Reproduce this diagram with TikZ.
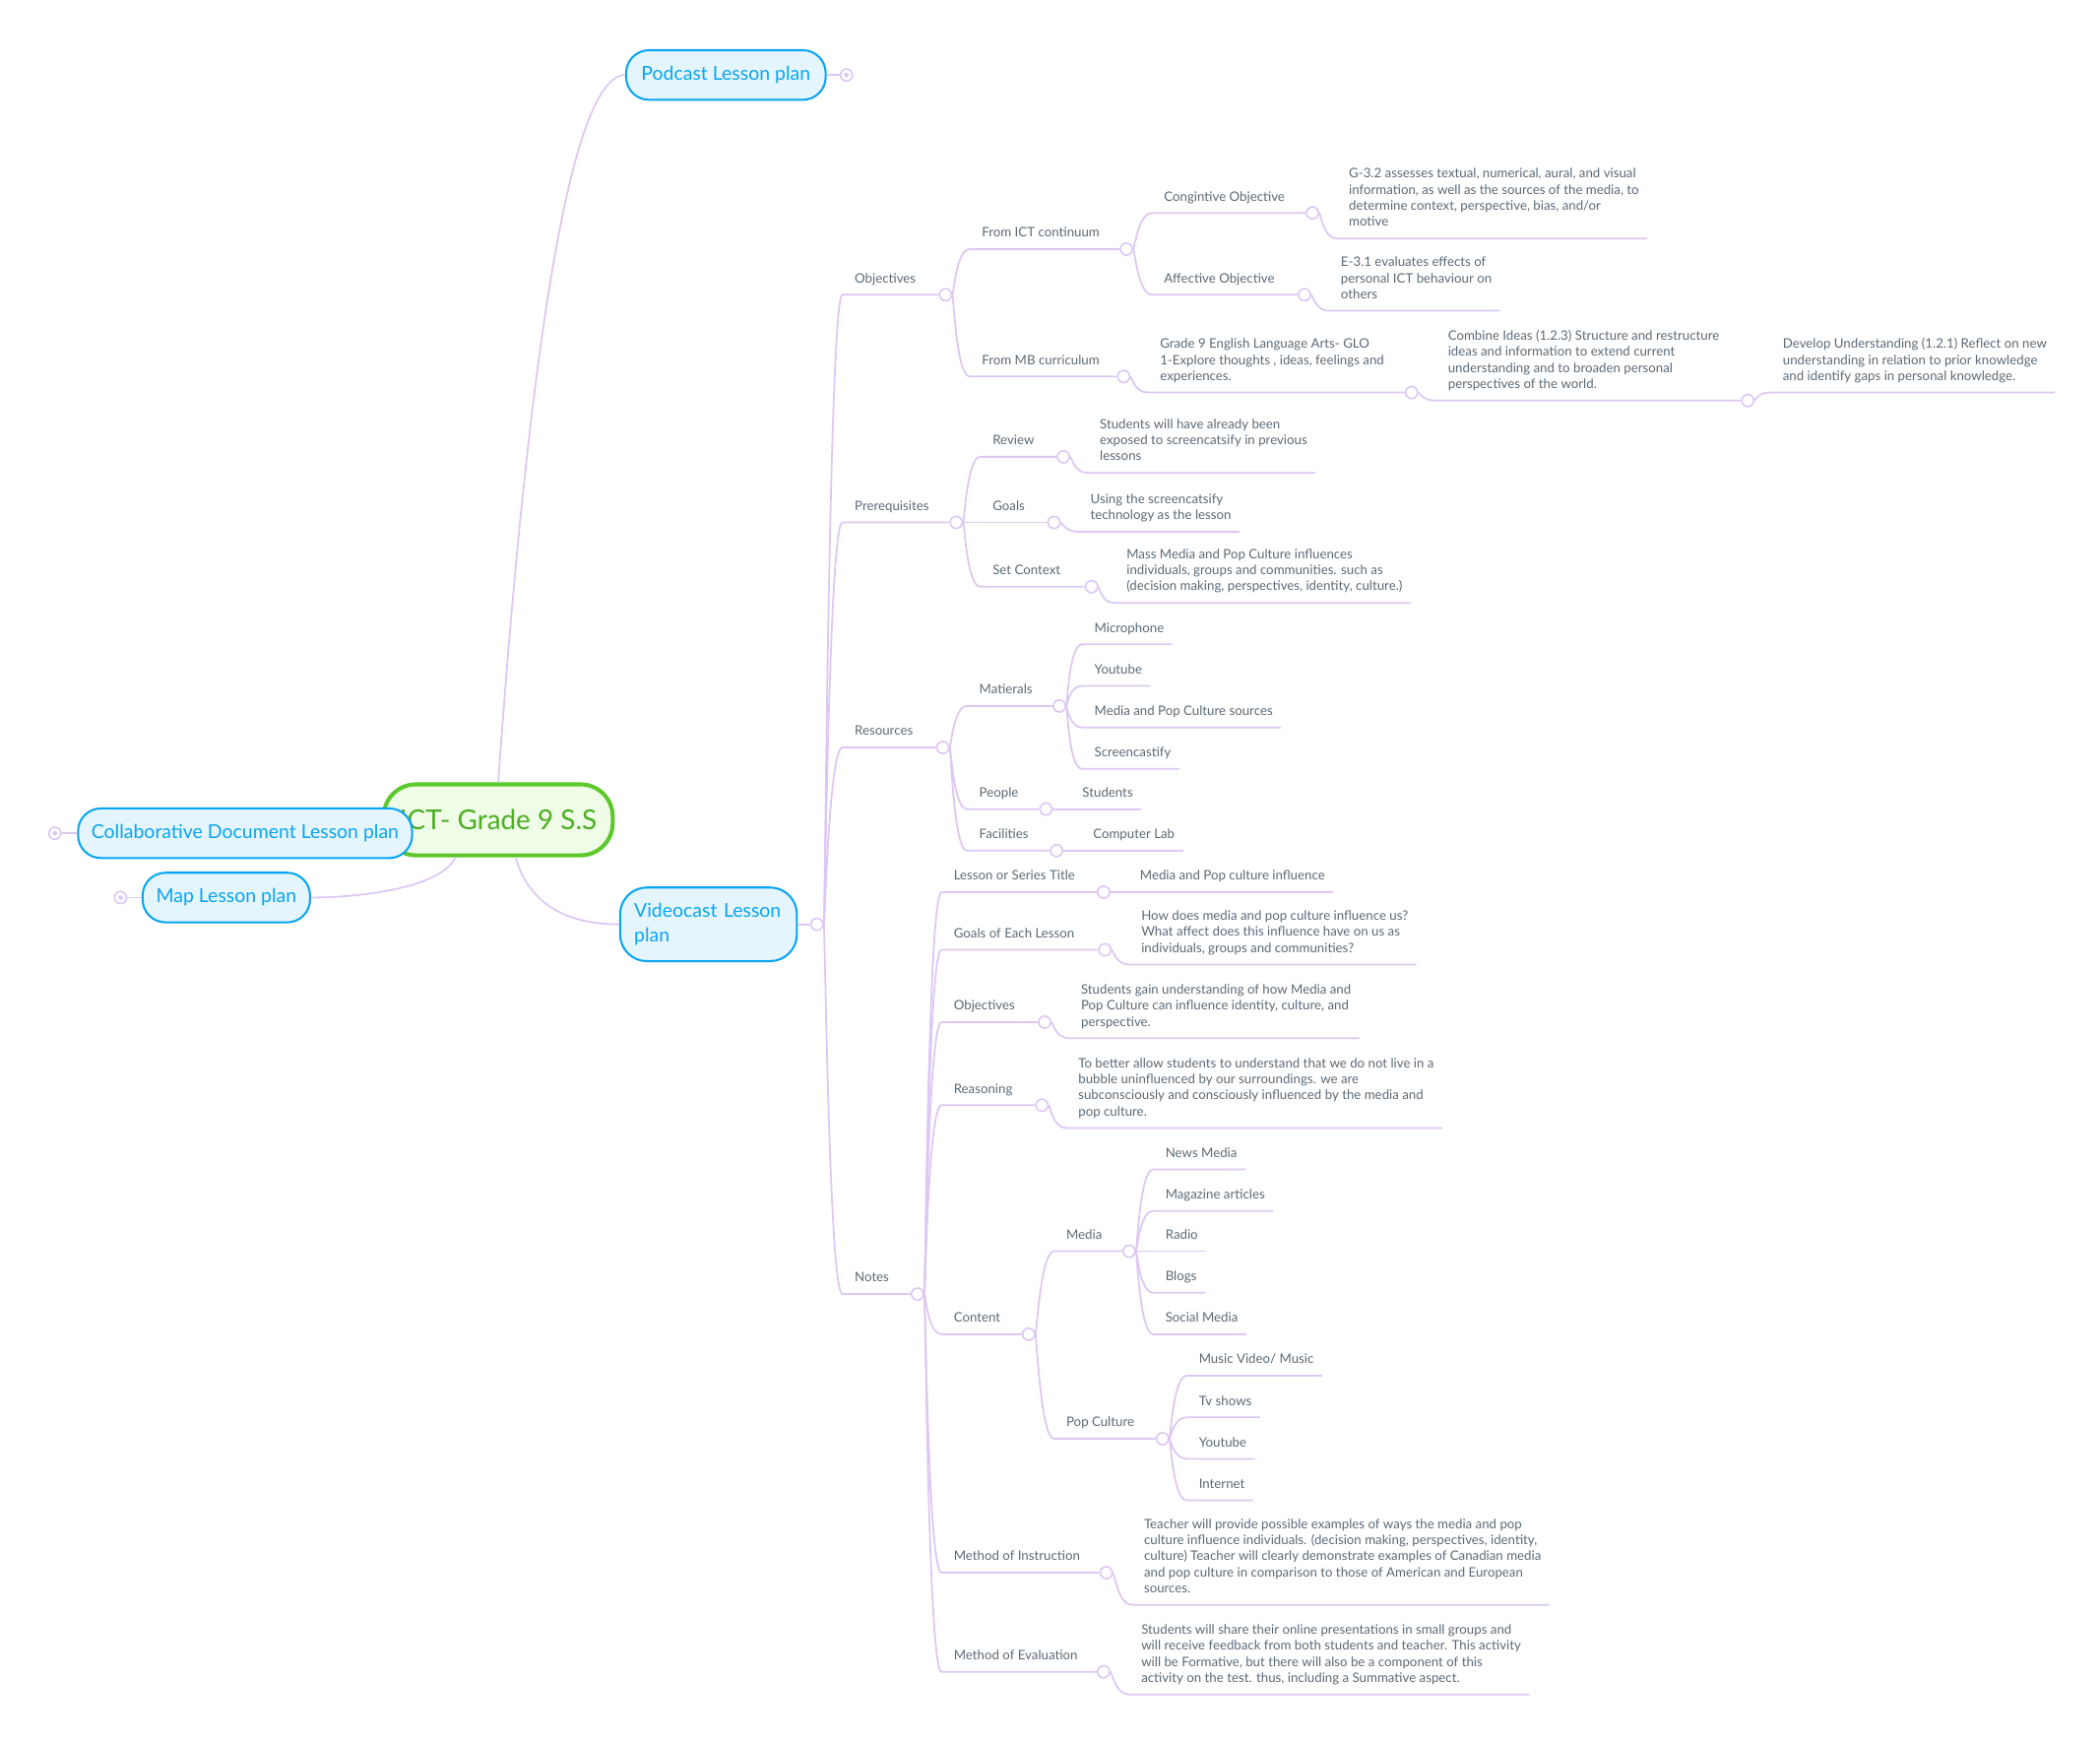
\documentclass[tikz,border=0pt]{standalone}
\usepackage{fontspec}
\setmainfont{Lato}
\definecolor{lavline}{HTML}{DCC8F2}
\definecolor{notegray}{HTML}{5A6976}
\definecolor{planblue}{HTML}{0AA5F0}
\definecolor{planfill}{HTML}{E4F5FD}
\definecolor{rootgreen}{HTML}{5CC82A}
\definecolor{rootfill}{HTML}{EFFCE8}
\definecolor{roottext}{HTML}{4DAE22}
\usetikzlibrary{positioning}

\tikzset{
  branch/.style={draw=lavline, line width=1.3pt},
  twig/.style={to path={.. controls +(6,0) and +(-10,0) .. (\tikztotarget)}},
  hub/.style={circle, draw=lavline, fill=white, line width=1.2pt, minimum size=9pt, inner sep=0pt},
  fold/.style={circle, draw=lavline, fill=white, line width=1.2pt, minimum size=9pt, inner sep=0pt,
    path picture={\fill[lavline] (path picture bounding box.center) circle (1.8pt);}},
  topic/.style={anchor=base west, inner sep=0pt, align=left, text=notegray,
    font=\fontsize{9.75}{12}\selectfont},
  plan/.style={draw=planblue, fill=planfill, line width=1.5pt, rounded corners=17pt,
    text=planblue, font=\fontsize{14.3}{18}\selectfont, minimum height=37pt, inner xsep=10pt},
  rootbox/.style={draw=rootgreen, fill=rootfill, line width=3pt, rounded corners=24pt,
    text=roottext, font=\fontsize{20.5}{24}\selectfont, minimum width=171pt, minimum height=53pt}
}

\begin{document}
\begin{tikzpicture}[x=1pt,y=-1pt]
  \useasboundingbox (0,0) rectangle (1568,1301);

  % central topic and the lesson plans
  \node[rootbox] (root) at (372,612) {ICT- Grade 9 S.S};
  \node[plan, minimum width=249pt] (collab) at (183,622) {Collaborative Document Lesson plan};
  \node[plan, minimum width=125pt] (maplp) at (169,670) {Map Lesson plan};
  \node[plan, minimum width=149pt] (podcast) at (542,56) {Podcast Lesson plan};
  \node[plan, minimum width=132pt, minimum height=55pt, text width=111pt, align=left,
    rounded corners=20pt] (videocast) at (529,690) {Videocast Lesson\\plan};
  \node[fold] (podfold) at (632,56) {};
  \node[fold] (collabfold) at (41,622) {};
  \node[fold] (mapfold) at (90,670) {};
  \draw[branch] (podcast) -- (podfold);
  \draw[branch] (collab) -- (collabfold);
  \draw[branch] (maplp) -- (mapfold);
  \draw[branch] (root.north) .. controls (390,330) and (420,56) .. (podcast.west);
  \draw[branch] ([xshift=-32pt]root.south) .. controls (330,662) and (272,670) .. (maplp.east);
  \draw[branch] ([xshift=13pt]root.south) .. controls (395,676) and (425,690) .. (videocast.west);

  % hubs
  \node[hub] (hVid) at (610,690) {};
  \node[hub] (hObj) at (706,220) {};
  \node[hub] (hIct) at (841,186) {};
  \node[hub] (hCog) at (980,159) {};
  \node[hub] (hAff) at (974,220) {};
  \node[hub] (hMb) at (839,281) {};
  \node[hub] (hGlo) at (1054,293) {};
  \node[hub] (hComb) at (1305,299) {};
  \node[hub] (hPre) at (714,390) {};
  \node[hub] (hRev) at (794,341) {};
  \node[hub] (hGoal) at (787,390) {};
  \node[hub] (hCtx) at (815,438) {};
  \node[hub] (hRes) at (704,558) {};
  \node[hub] (hMat) at (791,527) {};
  \node[hub] (hPpl) at (781,604) {};
  \node[hub] (hFac) at (789,635) {};
  \node[hub] (hNotes) at (685,966) {};
  \node[hub] (hTitle) at (824,666) {};
  \node[hub] (hGEach) at (825,709) {};
  \node[hub] (hNObj) at (780,763) {};
  \node[hub] (hReas) at (778,825) {};
  \node[hub] (hCont) at (768,996) {};
  \node[hub] (hMedia) at (843,934) {};
  \node[hub] (hPop) at (868,1074) {};
  \node[hub] (hInstr) at (826,1174) {};
  \node[hub] (hEval) at (824,1248) {};
  \draw[branch] (videocast) -- (hVid);

  % Objectives
  \node[topic] (tObj) at (638,211) {Objectives};
  \node[topic] (tIct) at (733,177) {From ICT continuum};
  \node[topic] (tCog) at (869,150) {Congintive Objective};
  \node[topic] (lCog) at (1007,169) {G-3.2 assesses textual, numerical, aural, and visual\\information, as well as the sources of the media, to\\determine context, perspective, bias, and/or\\motive};
  \node[topic] (tAff) at (869,211) {Affective Objective};
  \node[topic] (lAff) at (1001,223) {E-3.1 evaluates effects of\\personal ICT behaviour on\\others};
  \node[topic] (tMb) at (733,272) {From MB curriculum};
  \node[topic] (tGlo) at (866,284) {Grade 9 English Language Arts- GLO\\1-Explore thoughts , ideas, feelings and\\experiences.};
  \node[topic] (tComb) at (1081,290) {Combine Ideas (1.2.3) Structure and restructure\\ideas and information to extend current\\understanding and to broaden personal\\perspectives of the world.};
  \node[topic] (lDev) at (1331,284) {Develop Understanding (1.2.1) Reflect on new\\understanding in relation to prior knowledge\\and identify gaps in personal knowledge.};
  \draw[branch] (hVid) to[twig] ([xshift=-9pt,yshift=-9pt]tObj.base west) -- (hObj);
  \draw[branch] (hObj) to[twig] ([xshift=-9pt,yshift=-9pt]tIct.base west) -- (hIct);
  \draw[branch] (hIct) to[twig] ([xshift=-9pt,yshift=-9pt]tCog.base west) -- (hCog);
  \draw[branch] (hCog) to[twig] ([xshift=-9pt,yshift=-9pt]lCog.base west) -- ([xshift=6pt,yshift=-9pt]lCog.base east);
  \draw[branch] (hIct) to[twig] ([xshift=-9pt,yshift=-9pt]tAff.base west) -- (hAff);
  \draw[branch] (hAff) to[twig] ([xshift=-9pt,yshift=-9pt]lAff.base west) -- ([xshift=6pt,yshift=-9pt]lAff.base east);
  \draw[branch] (hObj) to[twig] ([xshift=-9pt,yshift=-9pt]tMb.base west) -- (hMb);
  \draw[branch] (hMb) to[twig] ([xshift=-9pt,yshift=-9pt]tGlo.base west) -- (hGlo);
  \draw[branch] (hGlo) to[twig] ([xshift=-9pt,yshift=-9pt]tComb.base west) -- (hComb);
  \draw[branch] (hComb) to[twig] ([xshift=-9pt,yshift=-9pt]lDev.base west) -- ([xshift=6pt,yshift=-9pt]lDev.base east);

  % Prerequisites
  \node[topic] (tPre) at (638,381) {Prerequisites};
  \node[topic] (tRev) at (741,332) {Review};
  \node[topic] (lRev) at (821,344) {Students will have already been\\exposed to screencatsify in previous\\lessons};
  \node[topic] (tGoal) at (741,381) {Goals};
  \node[topic] (lGoal) at (814,388) {Using the screencatsify\\technology as the lesson};
  \node[topic] (tCtx) at (741,429) {Set Context};
  \node[topic] (lCtx) at (841,441) {Mass Media and Pop Culture influences\\individuals, groups and communities. such as\\(decision making, perspectives, identity, culture.)};
  \draw[branch] (hVid) to[twig] ([xshift=-9pt,yshift=-9pt]tPre.base west) -- (hPre);
  \draw[branch] (hPre) to[twig] ([xshift=-9pt,yshift=-9pt]tRev.base west) -- (hRev);
  \draw[branch] (hRev) to[twig] ([xshift=-9pt,yshift=-9pt]lRev.base west) -- ([xshift=6pt,yshift=-9pt]lRev.base east);
  \draw[branch] (hPre) to[twig] ([xshift=-9pt,yshift=-9pt]tGoal.base west) -- (hGoal);
  \draw[branch] (hGoal) to[twig] ([xshift=-9pt,yshift=-9pt]lGoal.base west) -- ([xshift=6pt,yshift=-9pt]lGoal.base east);
  \draw[branch] (hPre) to[twig] ([xshift=-9pt,yshift=-9pt]tCtx.base west) -- (hCtx);
  \draw[branch] (hCtx) to[twig] ([xshift=-9pt,yshift=-9pt]lCtx.base west) -- ([xshift=6pt,yshift=-9pt]lCtx.base east);

  % Resources
  \node[topic] (tRes) at (638,549) {Resources};
  \node[topic] (tMat) at (731,518) {Matierals};
  \node[topic] (lMic) at (817,472) {Microphone};
  \node[topic] (lYt) at (817,503) {Youtube};
  \node[topic] (lMps) at (817,534) {Media and Pop Culture sources};
  \node[topic] (lSc) at (817,565) {Screencastify};
  \node[topic] (tPpl) at (731,595) {People};
  \node[topic] (lStu) at (808,595) {Students};
  \node[topic] (tFac) at (731,626) {Facilities};
  \node[topic] (lLab) at (816,626) {Computer Lab};
  \draw[branch] (hVid) to[twig] ([xshift=-9pt,yshift=-9pt]tRes.base west) -- (hRes);
  \draw[branch] (hRes) to[twig] ([xshift=-9pt,yshift=-9pt]tMat.base west) -- (hMat);
  \draw[branch] (hMat) to[twig] ([xshift=-9pt,yshift=-9pt]lMic.base west) -- ([xshift=6pt,yshift=-9pt]lMic.base east);
  \draw[branch] (hMat) to[twig] ([xshift=-9pt,yshift=-9pt]lYt.base west) -- ([xshift=6pt,yshift=-9pt]lYt.base east);
  \draw[branch] (hMat) to[twig] ([xshift=-9pt,yshift=-9pt]lMps.base west) -- ([xshift=6pt,yshift=-9pt]lMps.base east);
  \draw[branch] (hMat) to[twig] ([xshift=-9pt,yshift=-9pt]lSc.base west) -- ([xshift=6pt,yshift=-9pt]lSc.base east);
  \draw[branch] (hRes) to[twig] ([xshift=-9pt,yshift=-9pt]tPpl.base west) -- (hPpl);
  \draw[branch] (hPpl) to[twig] ([xshift=-9pt,yshift=-9pt]lStu.base west) -- ([xshift=6pt,yshift=-9pt]lStu.base east);
  \draw[branch] (hRes) to[twig] ([xshift=-9pt,yshift=-9pt]tFac.base west) -- (hFac);
  \draw[branch] (hFac) to[twig] ([xshift=-9pt,yshift=-9pt]lLab.base west) -- ([xshift=6pt,yshift=-9pt]lLab.base east);

  % Notes
  \node[topic] (tNotes) at (638,957) {Notes};
  \node[topic] (tTitle) at (712,657) {Lesson or Series Title};
  \node[topic] (lTitle) at (851,657) {Media and Pop culture influence};
  \node[topic] (tGEach) at (712,700) {Goals of Each Lesson};
  \node[topic] (lGEach) at (852,711) {How does media and pop culture influence us?\\What affect does this influence have on us as\\individuals, groups and communities?};
  \node[topic] (tNObj) at (712,754) {Objectives};
  \node[topic] (lNObj) at (807,766) {Students gain understanding of how Media and\\Pop Culture can influence identity, culture, and\\perspective.};
  \node[topic] (tReas) at (712,816) {Reasoning};
  \node[topic] (lReas) at (805,833) {To better allow students to understand that we do not live in a\\bubble uninfluenced by our surroundings. we are\\subconsciously and consciously influenced by the media and\\pop culture.};
  \node[topic] (tCont) at (712,987) {Content};
  \node[topic] (tMedia) at (796,925) {Media};
  \node[topic] (lNews) at (870,864) {News Media};
  \node[topic] (lMag) at (870,895) {Magazine articles};
  \node[topic] (lRadio) at (870,925) {Radio};
  \node[topic] (lBlogs) at (870,956) {Blogs};
  \node[topic] (lSocial) at (870,987) {Social Media};
  \node[topic] (tPop) at (796,1065) {Pop Culture};
  \node[topic] (lMusic) at (895,1018) {Music Video/ Music};
  \node[topic] (lTv) at (895,1049) {Tv shows};
  \node[topic] (lYt2) at (895,1080) {Youtube};
  \node[topic] (lNet) at (895,1111) {Internet};
  \node[topic] (tInstr) at (712,1165) {Method of Instruction};
  \node[topic] (lInstr) at (854,1189) {Teacher will provide possible examples of ways the media and pop\\culture influence individuals. (decision making, perspectives, identity,\\culture) Teacher will clearly demonstrate examples of Canadian media\\and pop culture in comparison to those of American and European\\sources.};
  \node[topic] (tEval) at (712,1239) {Method of Evaluation};
  \node[topic] (lEval) at (852,1256) {Students will share their online presentations in small groups and\\will receive feedback from both students and teacher. This activity\\will be Formative, but there will also be a component of this\\activity on the test. thus, including a Summative aspect.};
  \draw[branch] (hVid) to[twig] ([xshift=-9pt,yshift=-9pt]tNotes.base west) -- (hNotes);
  \draw[branch] (hNotes) to[twig] ([xshift=-9pt,yshift=-9pt]tTitle.base west) -- (hTitle);
  \draw[branch] (hTitle) to[twig] ([xshift=-9pt,yshift=-9pt]lTitle.base west) -- ([xshift=6pt,yshift=-9pt]lTitle.base east);
  \draw[branch] (hNotes) to[twig] ([xshift=-9pt,yshift=-9pt]tGEach.base west) -- (hGEach);
  \draw[branch] (hGEach) to[twig] ([xshift=-9pt,yshift=-9pt]lGEach.base west) -- ([xshift=6pt,yshift=-9pt]lGEach.base east);
  \draw[branch] (hNotes) to[twig] ([xshift=-9pt,yshift=-9pt]tNObj.base west) -- (hNObj);
  \draw[branch] (hNObj) to[twig] ([xshift=-9pt,yshift=-9pt]lNObj.base west) -- ([xshift=6pt,yshift=-9pt]lNObj.base east);
  \draw[branch] (hNotes) to[twig] ([xshift=-9pt,yshift=-9pt]tReas.base west) -- (hReas);
  \draw[branch] (hReas) to[twig] ([xshift=-9pt,yshift=-9pt]lReas.base west) -- ([xshift=6pt,yshift=-9pt]lReas.base east);
  \draw[branch] (hNotes) to[twig] ([xshift=-9pt,yshift=-9pt]tCont.base west) -- (hCont);
  \draw[branch] (hCont) to[twig] ([xshift=-9pt,yshift=-9pt]tMedia.base west) -- (hMedia);
  \draw[branch] (hMedia) to[twig] ([xshift=-9pt,yshift=-9pt]lNews.base west) -- ([xshift=6pt,yshift=-9pt]lNews.base east);
  \draw[branch] (hMedia) to[twig] ([xshift=-9pt,yshift=-9pt]lMag.base west) -- ([xshift=6pt,yshift=-9pt]lMag.base east);
  \draw[branch] (hMedia) to[twig] ([xshift=-9pt,yshift=-9pt]lRadio.base west) -- ([xshift=6pt,yshift=-9pt]lRadio.base east);
  \draw[branch] (hMedia) to[twig] ([xshift=-9pt,yshift=-9pt]lBlogs.base west) -- ([xshift=6pt,yshift=-9pt]lBlogs.base east);
  \draw[branch] (hMedia) to[twig] ([xshift=-9pt,yshift=-9pt]lSocial.base west) -- ([xshift=6pt,yshift=-9pt]lSocial.base east);
  \draw[branch] (hCont) to[twig] ([xshift=-9pt,yshift=-9pt]tPop.base west) -- (hPop);
  \draw[branch] (hPop) to[twig] ([xshift=-9pt,yshift=-9pt]lMusic.base west) -- ([xshift=6pt,yshift=-9pt]lMusic.base east);
  \draw[branch] (hPop) to[twig] ([xshift=-9pt,yshift=-9pt]lTv.base west) -- ([xshift=6pt,yshift=-9pt]lTv.base east);
  \draw[branch] (hPop) to[twig] ([xshift=-9pt,yshift=-9pt]lYt2.base west) -- ([xshift=6pt,yshift=-9pt]lYt2.base east);
  \draw[branch] (hPop) to[twig] ([xshift=-9pt,yshift=-9pt]lNet.base west) -- ([xshift=6pt,yshift=-9pt]lNet.base east);
  \draw[branch] (hNotes) to[twig] ([xshift=-9pt,yshift=-9pt]tInstr.base west) -- (hInstr);
  \draw[branch] (hInstr) to[twig] ([xshift=-9pt,yshift=-9pt]lInstr.base west) -- ([xshift=6pt,yshift=-9pt]lInstr.base east);
  \draw[branch] (hNotes) to[twig] ([xshift=-9pt,yshift=-9pt]tEval.base west) -- (hEval);
  \draw[branch] (hEval) to[twig] ([xshift=-9pt,yshift=-9pt]lEval.base west) -- ([xshift=6pt,yshift=-9pt]lEval.base east);
\end{tikzpicture}
\end{document}
